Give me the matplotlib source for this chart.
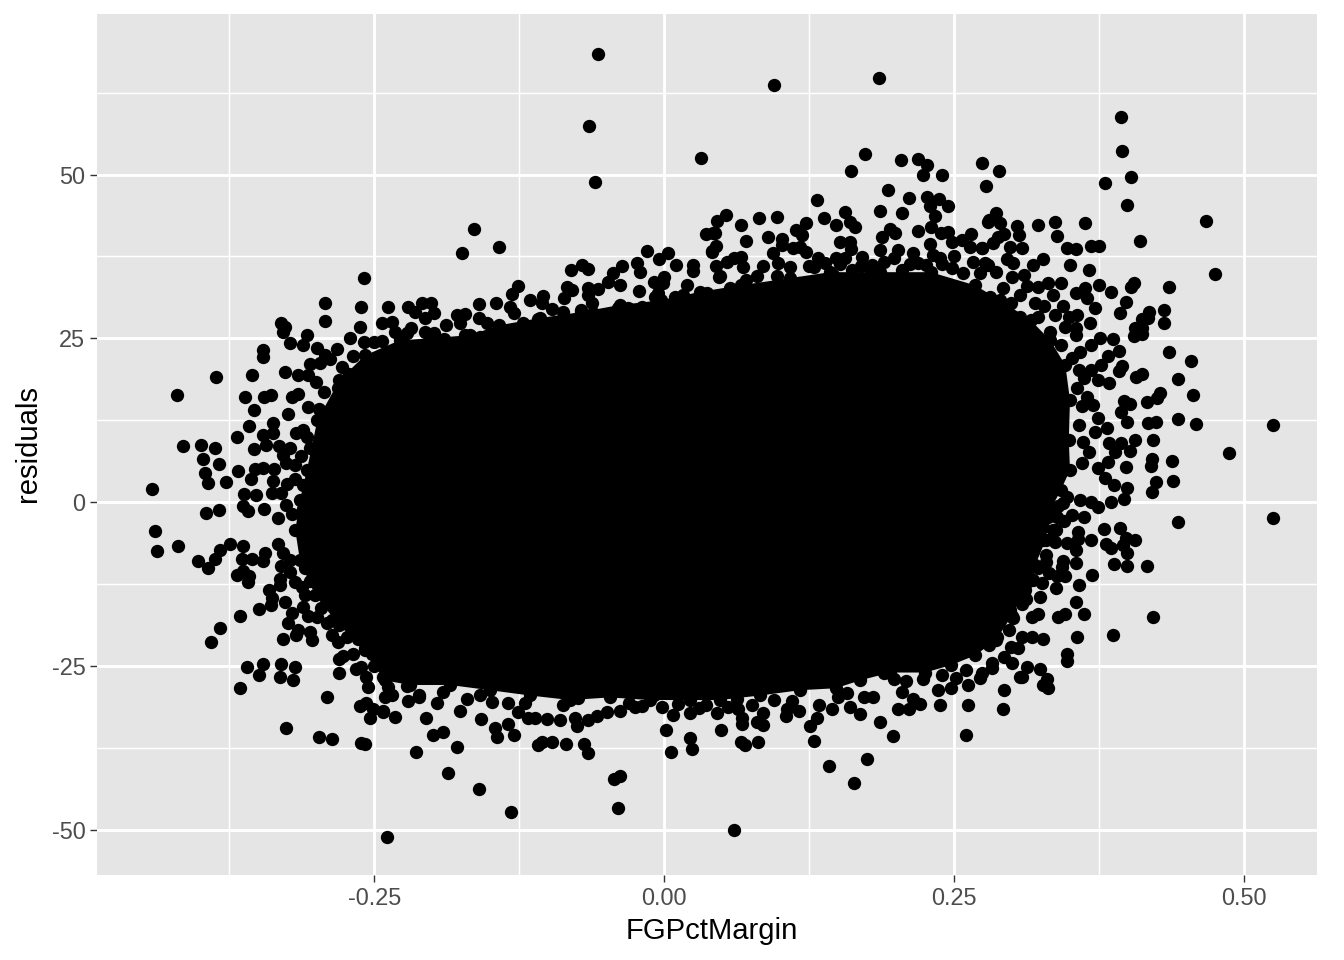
import numpy as np
import matplotlib
matplotlib.use('Agg')
import matplotlib.pyplot as plt

plt.rcParams['font.family'] = ['Liberation Sans', 'DejaVu Sans']

x_ticks = [-0.25, 0.00, 0.25, 0.50]
x_tick_labels = ['-0.25', '0.00', '0.25', '0.50']
x_minor = [-0.375, -0.125, 0.125, 0.375]
y_ticks = [-50, -25, 0, 25, 50]
y_tick_labels = ['-50', '-25', '0', '25', '50']
y_minor = [-37.5, -12.5, 12.5, 37.5, 62.5]

# outline of the saturated middle, single points can't be read in there
core = [(-0.318,-4.3),(-0.314,-8.9),(-0.301,-14.2),(-0.280,-18.8),(-0.258,-22.6),(-0.241,-27.2),(-0.219,-27.9),
        (-0.185,-27.9),(-0.150,-28.7),(-0.116,-29.5),(-0.081,-30.2),(-0.047,-29.8),(-0.012,-30.2),(0.022,-30.2),
        (0.048,-30.2),(0.083,-29.5),(0.117,-28.7),(0.148,-28.4),(0.169,-27.2),(0.195,-26.0),(0.225,-26.0),
        (0.247,-24.9),(0.268,-23.4),(0.286,-21.1),(0.300,-17.3),(0.311,-13.4),(0.320,-9.6),(0.329,-5.8),
        (0.333,-1.2),(0.342,1.8),(0.350,4.9),(0.349,9.5),(0.350,15.6),(0.346,20.9),(0.333,24.7),(0.316,27.8),
        (0.290,30.8),(0.268,33.1),(0.230,35.1),(0.186,35.1),(0.143,35.1),(0.109,34.2),(0.066,33.1),(0.031,32.1),
        (-0.003,30.8),(-0.038,30.1),(-0.072,29.0),(-0.107,28.1),(-0.142,27.0),(-0.167,25.5),(-0.202,25.0),
        (-0.228,24.7),(-0.258,22.4),(-0.280,18.6),(-0.299,12.5),(-0.308,4.9),(-0.314,0.3)]

far_points = [(-0.057,68.4),(-0.065,57.4),(-0.060,48.9),(0.095,63.7),(0.185,64.7),(0.032,52.5),(0.394,58.8),
              (0.395,53.6),(0.403,49.6),(0.399,45.3),(0.380,48.7),(0.410,39.8),(0.467,42.9),(0.475,34.8),
              (0.525,11.8),(0.487,7.5),(0.525,-2.4),(0.443,-3.1),(0.422,-17.6),(0.387,-20.2),(-0.442,2.0),
              (-0.439,-4.4),(-0.437,-7.5),(-0.420,16.3),(-0.415,8.5),(-0.419,-6.7),(-0.386,19.1)]

upper_left = [(-0.259,34.2),(-0.292,30.4),(-0.261,29.8),(-0.238,29.8),(-0.292,27.6),(-0.330,27.3),(-0.327,26.7),
              (-0.329,26.0),(-0.308,25.5),(-0.323,24.3),(-0.311,24.0),(-0.299,23.5),(-0.346,23.2),(-0.346,22.1),
              (-0.292,22.4),(-0.282,23.4),(-0.262,26.7),(-0.222,25.8),(-0.221,29.8),(-0.209,30.4),(-0.215,29.0),
              (-0.243,27.3),(-0.235,27.5),(-0.271,25.0),(-0.259,24.4),(-0.243,24.6),(-0.305,21.1),(-0.297,21.2),
              (-0.327,19.8),(-0.316,19.4),(-0.307,19.4),(-0.355,19.4),(-0.361,16.0),(-0.345,16.0),(-0.339,16.3),
              (-0.321,16.0),(-0.316,16.5),(-0.354,14.0),(-0.324,13.4),(-0.307,14.5),(-0.358,11.6),(-0.337,12.1),
              (-0.368,9.9),(-0.346,10.2),(-0.337,10.5),(-0.317,10.5),(-0.311,11.0),(-0.399,8.7),(-0.387,8.2),
              (-0.354,8.1),(-0.343,8.7),(-0.332,8.5),(-0.323,8.2),(-0.305,8.2),(-0.398,6.6),(-0.384,5.8),
              (-0.329,7.2),(-0.326,6.0),(-0.318,5.6),(-0.396,4.4),(-0.367,4.7),(-0.393,2.9),(-0.378,3.1),
              (-0.353,5.0),(-0.346,5.2),(-0.336,5.0),(-0.356,3.5),(-0.337,3.2),(-0.325,2.7),(-0.311,2.6),
              (-0.362,1.2),(-0.352,1.1),(-0.338,1.4),(-0.330,1.4),(-0.288,21.8),(-0.278,20.6),(-0.268,22.3),
              (-0.300,18.3),(-0.293,16.8),(-0.298,14.2),(-0.288,14.0),(-0.281,17.4),(-0.272,19.6),(-0.313,7.0),
              (-0.318,3.6),(-0.308,10.0)]

lower_left = [(-0.395,-1.7),(-0.384,-1.2),(-0.363,-0.6),(-0.359,-1.4),(-0.345,-1.1),(-0.333,-2.4),(-0.326,-0.5),
              (-0.321,-1.8),(-0.311,-1.1),(-0.402,-9.0),(-0.393,-10.1),(-0.387,-8.7),(-0.383,-7.3),(-0.374,-6.4),
              (-0.363,-6.7),(-0.364,-8.7),(-0.355,-8.7),(-0.346,-9.0),(-0.344,-7.8),(-0.333,-6.4),(-0.329,-7.8),
              (-0.323,-8.9),(-0.330,-9.8),(-0.323,-10.7),(-0.310,-10.1),(-0.368,-11.1),(-0.363,-10.5),(-0.358,-11.3),
              (-0.359,-12.2),(-0.331,-11.8),(-0.331,-12.7),(-0.318,-12.2),(-0.312,-13.0),(-0.341,-13.4),(-0.338,-14.7),
              (-0.339,-15.7),(-0.349,-16.3),(-0.327,-15.3),(-0.310,-14.2),(-0.366,-17.4),(-0.383,-19.2),(-0.391,-21.4),
              (-0.311,-16.0),(-0.321,-16.9),(-0.307,-17.4),(-0.299,-17.6),(-0.324,-18.5),(-0.317,-20.2),(-0.316,-19.5),
              (-0.329,-20.9),(-0.305,-19.8),(-0.304,-21.1),(-0.286,-18.0),(-0.286,-20.2),(-0.273,-20.6),(-0.264,-20.9),
              (-0.277,-23.5),(-0.280,-24.0),(-0.280,-26.0),(-0.360,-25.2),(-0.346,-24.7),(-0.349,-26.4),(-0.330,-24.7),
              (-0.331,-26.7),(-0.318,-25.2),(-0.320,-27.2),(-0.366,-28.4),(-0.291,-29.8),(-0.261,-25.2),(-0.257,-26.7),
              (-0.255,-28.2),(-0.258,-22.3),(-0.252,-23.1),(-0.242,-24.1),(-0.242,-26.7),(-0.238,-28.2),(-0.241,-29.8),
              (-0.235,-29.5),(-0.221,-30.4),(-0.211,-29.8),(-0.222,-28.1),(-0.230,-24.9),(-0.219,-26.4),(-0.262,-31.1),
              (-0.257,-30.7),(-0.251,-31.5),(-0.242,-31.8),(-0.254,-33.0),(-0.232,-32.8),(-0.205,-33.0),(-0.296,-16.2),
              (-0.291,-18.4),(-0.281,-21.4),(-0.268,-23.2),(-0.266,-25.4),(-0.250,-25.0),(-0.296,-13.4),(-0.305,-12.0)]

bottom = [(-0.326,-34.4),(-0.298,-35.9),(-0.286,-36.2),(-0.261,-36.8),(-0.258,-36.9),(-0.214,-38.2),(-0.199,-35.6),
          (-0.186,-41.4),(-0.179,-37.4),(-0.160,-43.8),(-0.239,-51.1),(-0.132,-47.3),(-0.040,-46.7),(-0.038,-41.8),
          (-0.043,-42.3),(0.060,-50.1),(0.164,-42.9),(0.142,-40.2),(0.175,-39.2),(-0.242,-32.1),(-0.176,-31.8),
          (-0.191,-35.0),(-0.158,-33.1),(-0.146,-34.5),(-0.144,-35.9),(-0.135,-33.9),(-0.129,-35.6),(-0.109,-37.1),
          (-0.105,-36.6),(-0.097,-36.6),(-0.085,-36.9),(-0.069,-36.9),(-0.066,-38.3),(-0.126,-32.1),(-0.117,-33.0),
          (-0.111,-33.0),(-0.101,-33.1),(-0.090,-33.3),(-0.077,-33.0),(-0.075,-34.2),(-0.066,-33.3),(-0.058,-32.7),
          (-0.049,-32.1),(-0.038,-31.9),(-0.025,-31.3),(-0.019,-31.1),(-0.009,-29.5),(-0.002,-31.3),(0.008,-32.5),
          (0.022,-32.2),(0.002,-34.7),(0.022,-36.0),(0.024,-37.6),(0.006,-38.2),(-0.159,-29.5),(-0.191,-29.0),
          (-0.211,-29.5),(-0.135,-30.7),(-0.148,-30.5),(-0.087,-31.0),(-0.074,-29.9),(0.036,-31.0),(0.046,-32.2),
          (0.049,-34.7),(0.063,-30.1),(0.064,-31.5),(0.067,-33.0),(0.067,-33.9),(0.076,-31.0),(0.085,-32.2),
          (0.080,-33.6),(0.085,-34.0),(0.066,-36.6),(0.070,-37.1),(0.081,-36.6),(0.106,-31.6),(0.105,-32.7),
          (0.116,-31.9),(0.132,-33.0),(0.126,-34.2),(0.129,-36.5),(0.134,-31.0),(0.145,-31.5),(0.160,-31.3),
          (0.169,-32.4),(0.186,-33.6),(0.197,-35.7),(0.202,-31.5),(0.211,-31.5),(0.221,-30.8),(0.215,-30.1),
          (0.205,-29.0),(0.238,-31.0),(0.262,-31.0),(0.262,-27.9),(0.260,-35.6),(0.293,-28.7),(0.292,-31.6),
          (0.223,-27.0),(0.236,-28.7),(0.247,-28.4),(0.172,-29.8),(0.180,-29.8),(0.158,-29.2),(0.198,-27.0),
          (0.209,-27.3),(0.190,-26.0),(0.300,-24.6),(0.307,-26.7),(0.283,-25.3),(0.260,-25.6),(-0.196,-30.6),
          (-0.170,-30.0),(-0.120,-30.6),(0.150,-29.8),(0.110,-30.4),(0.095,-30.2),(0.030,-31.4),(0.055,-31.2),
          (0.012,-30.8),(-0.030,-30.6),(0.272,-26.8),(0.252,-26.8),(0.240,-26.4)]

lower_right = [(0.438,6.3),(0.421,6.6),(0.420,5.5),(0.398,5.3),(0.383,6.1),(0.439,3.2),(0.424,3.1),(0.421,1.5),
               (0.399,2.1),(0.388,2.6),(0.397,0.5),(0.380,3.7),(0.374,5.2),(0.385,0.0),(0.374,-0.8),(0.368,0.0),
               (0.359,0.3),(0.347,0.8),(0.344,-0.2),(0.362,-2.3),(0.352,-2.0),(0.339,-2.3),(0.379,-4.1),(0.393,-4.0),
               (0.406,-5.7),(0.398,-5.5),(0.396,-6.6),(0.399,-7.8),(0.381,-6.4),(0.385,-7.0),(0.368,-5.8),(0.357,-4.6),
               (0.357,-5.6),(0.347,-6.3),(0.337,-6.1),(0.338,-4.3),(0.355,-7.3),(0.388,-9.5),(0.399,-9.8),(0.416,-9.8),
               (0.355,-9.3),(0.344,-9.0),(0.343,-9.9),(0.329,-8.1),(0.329,-9.2),(0.322,-10.1),(0.369,-11.1),(0.346,-11.3),
               (0.339,-11.3),(0.338,-13.1),(0.358,-12.7),(0.318,-11.9),(0.313,-12.2),(0.324,-14.5),(0.355,-15.3),
               (0.362,-17.1),(0.346,-17.1),(0.340,-17.6),(0.322,-17.1),(0.317,-17.6),(0.309,-15.6),(0.301,-17.7),
               (0.356,-20.6),(0.327,-20.9),(0.317,-20.6),(0.309,-20.6),(0.347,-23.2),(0.347,-24.3),(0.305,-22.3),
               (0.299,-22.1),(0.280,-21.8),(0.293,-23.7),(0.283,-24.6),(0.313,-25.2),(0.324,-25.5),(0.309,-26.7),
               (0.330,-27.0),(0.327,-27.9),(0.331,-28.4),(0.274,-26.1),(0.297,-19.5),(0.287,-20.6),(0.333,1.4),
               (0.331,-2.3),(0.327,-3.8),(0.335,-4.3),(0.327,-5.8),(0.318,-7.4),(0.313,-10.6),(0.326,-12.4),
               (0.332,-10.8),(0.304,-13.2),(0.312,-14.8),(0.298,-16.4),(0.345,-2.8),(0.340,-0.6)]

upper_right = [(0.435,32.8),(0.405,33.4),(0.403,32.8),(0.375,33.1),(0.385,32.1),(0.398,30.5),(0.393,28.9),(0.418,29.0),
               (0.431,29.3),(0.431,27.3),(0.412,27.9),(0.417,28.1),(0.406,26.6),(0.412,26.6),(0.405,25.3),(0.412,25.6),
               (0.367,27.3),(0.376,25.0),(0.387,24.9),(0.392,23.1),(0.435,22.9),(0.454,21.5),(0.443,18.8),(0.456,16.3),
               (0.428,16.6),(0.425,15.9),(0.412,19.5),(0.407,19.1),(0.395,20.8),(0.392,20.0),(0.383,22.3),(0.377,20.9),
               (0.384,18.2),(0.368,20.2),(0.362,18.9),(0.374,18.6),(0.416,15.3),(0.397,15.4),(0.402,15.0),(0.394,13.7),
               (0.399,12.2),(0.417,12.1),(0.424,12.2),(0.443,12.7),(0.459,11.9),(0.422,9.5),(0.406,9.5),(0.382,11.3),
               (0.374,12.8),(0.370,14.8),(0.365,16.0),(0.372,10.7),(0.384,9.0),(0.394,9.0),(0.402,7.8),(0.389,7.6),
               (0.366,7.6),(0.361,9.2),(0.368,24.0),(0.359,22.9),(0.372,29.6),(0.365,31.1),(0.363,32.7),(0.355,31.9),
               (0.342,33.4),(0.331,33.4),(0.322,32.8),(0.356,28.5),(0.349,28.2),(0.355,26.6),(0.346,26.7),(0.355,25.5),
               (0.366,35.4),(0.350,36.2),(0.327,37.1),(0.318,36.2),(0.347,38.8),(0.355,38.6),(0.368,39.1),(0.375,39.1),
               (0.339,40.6),(0.309,38.8),(0.298,38.9),(0.284,39.5),(0.293,40.9),(0.306,40.8),(0.304,42.1),(0.322,42.3),
               (0.337,42.7),(0.363,42.6),(0.290,42.6),(0.279,42.7),(0.274,38.8),(0.277,36.5),(0.296,37.1),(0.301,36.5),
               (0.286,35.1),(0.310,34.7),(0.292,32.7),(0.281,31.3),(0.307,31.6),(0.299,30.4),(0.320,30.4),(0.307,28.2),
               (0.337,28.5),(0.335,31.6),(0.322,28.2),(0.333,26.0),(0.342,24.0),(0.352,22.0),(0.358,20.2),(0.356,17.4),
               (0.360,14.6),(0.358,11.8),(0.360,6.0),(0.344,30.0),(0.328,30.0),(0.313,33.0),(0.300,34.4),(0.272,35.0),
               (0.258,35.0),(0.240,36.4)]

top_right = [(0.173,53.1),(0.161,50.5),(0.204,52.2),(0.219,52.4),(0.227,51.5),(0.223,49.9),(0.240,49.9),(0.274,51.8),
             (0.289,50.5),(0.278,48.2),(0.193,47.6),(0.211,46.4),(0.227,46.6),(0.237,46.3),(0.245,45.2),(0.229,45.2),
             (0.132,46.1),(0.186,44.4),(0.205,44.1),(0.234,43.7),(0.156,44.3),(0.138,43.4),(0.148,42.3),(0.160,42.7),
             (0.165,42.0),(0.122,42.6),(0.114,41.5),(0.119,40.8),(0.097,43.5),(0.082,43.4),(0.066,42.3),(0.053,43.8),
             (0.046,42.9),(0.044,41.1),(0.036,40.9),(0.071,39.8),(0.090,40.5),(0.102,40.2),(0.045,39.1),(0.041,38.3),
             (0.219,41.4),(0.230,42.0),(0.239,41.1),(0.245,41.2),(0.265,40.9),(0.280,43.1),(0.286,44.1),(0.288,40.5),
             (0.274,38.8),(0.248,39.7),(0.257,40.0),(0.264,38.9),(0.229,39.4),(0.195,41.7),(0.199,41.1),(0.188,40.5),
             (0.186,38.5),(0.152,39.7),(0.160,39.7),(0.161,38.6),(0.171,37.4),(0.148,37.3),(0.156,37.3),(0.202,38.5),
             (0.215,38.0),(0.198,37.3),(0.219,36.5),(0.205,35.4),(0.179,36.2),(0.178,35.4),(0.232,37.7),(0.238,37.3),
             (0.250,37.6),(0.266,36.6),(0.279,36.2),(0.248,35.7),(0.162,35.4),(0.133,37.3),(0.139,36.5),(0.129,35.9),
             (0.122,38.2),(0.111,38.8),(0.117,38.9),(0.102,39.2),(0.094,38.0),(0.098,36.5),(0.109,35.9),(0.085,36.0),
             (0.066,37.4),(0.060,37.3),(0.054,36.6),(0.045,36.0),(0.068,35.9),(0.048,34.5),(0.080,34.5),(0.097,34.5),
             (0.116,33.4),(0.071,33.9),(0.037,31.9),(0.057,32.7),(0.090,32.5),(0.146,34.7),(0.125,36.0),(0.152,36.4),
             (0.190,36.6),(0.212,36.4),(0.226,36.2),(0.170,36.0)]

top_left = [(-0.164,41.7),(-0.174,38.0),(-0.142,38.9),(-0.080,35.4),(-0.071,36.2),(-0.066,35.6),(-0.015,38.3),(0.003,38.0),
            (-0.004,37.1),(0.010,36.2),(-0.023,36.5),(-0.021,35.1),(-0.036,36.0),(-0.044,35.0),(-0.048,33.6),(-0.038,33.1),
            (-0.057,32.5),(-0.022,32.2),(-0.066,32.7),(-0.066,31.6),(-0.084,32.8),(-0.079,32.4),(-0.086,31.1),(-0.126,33.0),
            (-0.131,31.8),(-0.116,30.8),(-0.104,31.4),(-0.105,30.4),(-0.145,30.4),(-0.160,30.2),(-0.133,29.8),(-0.129,28.9),
            (-0.201,30.4),(-0.198,28.9),(-0.206,28.1),(-0.179,28.5),(-0.172,28.7),(-0.176,27.3),(-0.160,28.1),(-0.153,27.3),
            (-0.142,26.7),(-0.122,27.3),(-0.109,27.9),(-0.097,29.5),(-0.087,29.0),(-0.072,29.3),(-0.062,30.4),(-0.061,28.9),
            (-0.053,27.8),(-0.040,29.6),(-0.031,29.6),(-0.019,29.8),(-0.027,27.8),(-0.009,33.6),(0.000,34.4),(-0.001,33.4),
            (-0.005,31.9),(-0.008,31.3),(0.020,33.1),(0.009,31.3),(0.016,31.6),(0.025,36.2),(0.025,35.3),(0.047,34.4),
            (0.042,41.1),(0.041,38.2),(0.009,28.4),(0.034,29.8),(-0.003,29.3),(0.020,30.8),(-0.190,24.9),(-0.198,25.8),
            (-0.206,26.0),(-0.182,23.5),(-0.172,25.5),(-0.159,25.2),(-0.188,27.0),(-0.218,26.6),(-0.232,26.0),(-0.250,24.4)]

points = np.array(far_points + upper_left + lower_left + bottom + lower_right + upper_right + top_right + top_left)

fig = plt.figure(figsize=(6.72, 4.8), dpi=200)
ax = fig.add_axes([97/1344, 85/960, 1220/1344, 861/960])
ax.set_facecolor('#E5E5E5')
ax.set_axisbelow(True)

for v in x_ticks:
    ax.axvline(v, color='white', lw=1.05, zorder=1)
for v in x_minor:
    ax.axvline(v, color='white', lw=0.53, zorder=1)
for v in y_ticks:
    ax.axhline(v, color='white', lw=1.05, zorder=1)
for v in y_minor:
    ax.axhline(v, color='white', lw=0.53, zorder=1)

core_pts = np.array(core)
ax.fill(core_pts[:, 0], core_pts[:, 1], color='black', lw=0, zorder=2)
ax.scatter(core_pts[:, 0], core_pts[:, 1], s=23, color='black', linewidths=0, zorder=2)
ax.scatter(points[:, 0], points[:, 1], s=23, color='black', linewidths=0, zorder=3)

ax.set_xlim(-0.489, 0.563)
ax.set_ylim(-56.9, 74.5)
ax.set_xticks(x_ticks)
ax.set_xticklabels(x_tick_labels)
ax.set_yticks(y_ticks)
ax.set_yticklabels(y_tick_labels)
ax.tick_params(axis='both', labelsize=8.45, labelcolor='#4D4D4D', color='#333333', length=2.6, width=0.5, pad=1.6)
for s in ax.spines.values():
    s.set_visible(False)

fig.text(712/1344, 1 - 931/960, 'FGPctMargin', fontsize=10.55, ha='center', va='center')
fig.text(28/1344, 1 - 443/960, 'residuals', fontsize=10.55, ha='center', va='center', rotation=90)

fig.savefig('out.png', dpi=200)
